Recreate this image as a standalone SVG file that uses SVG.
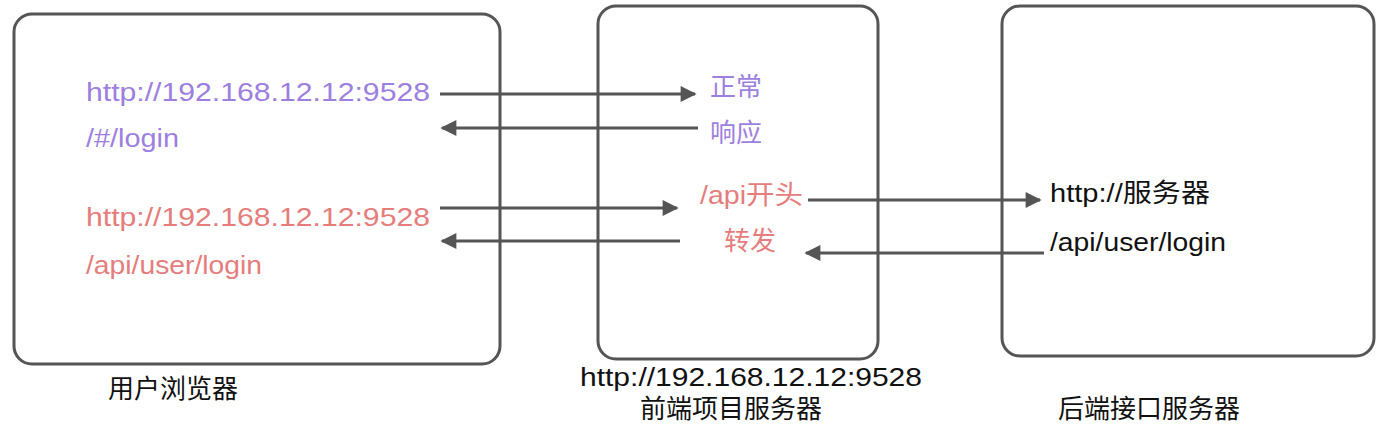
<svg xmlns="http://www.w3.org/2000/svg" width="1394" height="448" viewBox="0 0 1394 448">
<style>
.box{fill:#fff;stroke:#555;stroke-width:3}
text{font-family:"Liberation Sans","Noto Sans CJK SC",sans-serif;font-size:26px}
.p{fill:#9d7fe0}.r{fill:#e57d7d}.k{fill:#111}
.c line{stroke:#555;stroke-width:3}
</style>
<defs><marker id="b" viewBox="0 0 10 10" refX="9" refY="5" markerWidth="20" markerHeight="16" markerUnits="userSpaceOnUse" orient="auto"><path d="M0 0L10 5L0 10z" fill="#555"/></marker></defs>
<rect width="1394" height="448" fill="#fff"/>
<g id="browser"><rect class="box" x="14" y="14" width="486" height="350" rx="18"/>
<text class="p" x="86" y="101" textLength="344" lengthAdjust="spacingAndGlyphs">http://192.168.12.12:9528</text>
<text class="p" x="86" y="147" textLength="93" lengthAdjust="spacingAndGlyphs">/#/login</text>
<text class="r" x="86" y="226" textLength="344" lengthAdjust="spacingAndGlyphs">http://192.168.12.12:9528</text>
<text class="r" x="86" y="274" textLength="176" lengthAdjust="spacingAndGlyphs">/api/user/login</text>
<text class="k" x="108" y="398">用户浏览器</text></g>
<g id="frontend"><rect class="box" x="598" y="6" width="280" height="353" rx="18"/>
<text class="p" x="710" y="96">正常</text>
<text class="p" x="710" y="142">响应</text>
<text class="r" x="700" y="204" textLength="103" lengthAdjust="spacingAndGlyphs">/api开头</text>
<text class="r" x="724" y="250">转发</text>
<text class="k" x="580" y="386" textLength="342" lengthAdjust="spacingAndGlyphs">http://192.168.12.12:9528</text>
<text class="k" x="640" y="418">前端项目服务器</text></g>
<g id="backend"><rect class="box" x="1002" y="6" width="372" height="350" rx="18"/>
<text class="k" x="1050" y="202" textLength="160" lengthAdjust="spacingAndGlyphs">http://服务器</text>
<text class="k" x="1050" y="251" textLength="176" lengthAdjust="spacingAndGlyphs">/api/user/login</text>
<text class="k" x="1058" y="418">后端接口服务器</text></g>
<g class="c">
<line x1="440" y1="94" x2="695" y2="94" marker-end="url(#b)"/>
<line x1="698" y1="128" x2="442" y2="128" marker-end="url(#b)"/>
<line x1="440" y1="208" x2="677" y2="208" marker-end="url(#b)"/>
<line x1="680" y1="241" x2="442" y2="241" marker-end="url(#b)"/>
<line x1="808" y1="200" x2="1040" y2="200" marker-end="url(#b)"/>
<line x1="1044" y1="253" x2="806" y2="253" marker-end="url(#b)"/>
</g>
</svg>
